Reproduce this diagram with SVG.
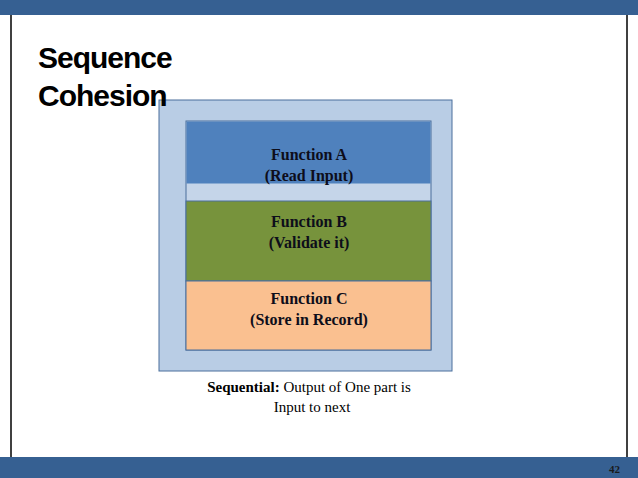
<svg xmlns="http://www.w3.org/2000/svg" width="638" height="478" viewBox="0 0 638 478">
<style>
.t{font-family:"Liberation Serif",serif;font-weight:bold;font-size:16px;fill:#0d0d1a;text-anchor:middle}
.n{font-family:"Liberation Serif",serif;font-size:15px;fill:#000;text-anchor:middle}
.h{font-family:"Liberation Sans",Arial,sans-serif;font-weight:bold;font-size:30px;fill:#000;letter-spacing:-1px}
.box{stroke:#4a6f9c;stroke-width:1}
</style>
<rect width="638" height="478" fill="#fff"/>
<rect x="0" y="0" width="638" height="15" fill="#366092"/>
<rect x="0" y="457" width="638" height="21" fill="#366092"/>
<line x1="11" y1="15" x2="11" y2="457" stroke="#000" stroke-width="1.5"/>
<line x1="627" y1="15" x2="627" y2="457" stroke="#000" stroke-width="1.5"/>
<text x="620" y="473" font-family="Liberation Serif,serif" font-weight="bold" font-size="11" fill="#1a1a1a" text-anchor="end">42</text>
<g id="outer"><rect class="box" x="159" y="100" width="293" height="271" fill="#b9cde5"/></g>
<text class="h" x="38" y="68">Sequence</text>
<text class="h" x="38" y="106">Cohesion</text>
<g id="gap"><rect class="box" x="186" y="121" width="245" height="229" fill="#c5d5e9"/></g>
<g id="funcA"><rect x="186.5" y="121.5" width="244" height="62" fill="#4f81bd"/>
<text class="t" x="309" y="160">Function A</text><text class="t" x="309" y="181">(Read  Input)</text></g>
<g id="funcB"><rect class="box" x="186" y="201" width="245" height="80" fill="#77933c"/>
<text class="t" x="309" y="227">Function B</text><text class="t" x="309" y="248">(Validate it)</text></g>
<g id="funcC"><rect class="box" x="186" y="281" width="245" height="69" fill="#fac090"/>
<text class="t" x="309" y="304">Function C</text><text class="t" x="309" y="325">(Store in Record)</text></g>
<g id="caption"><text class="n" x="309" y="392"><tspan font-weight="bold">Sequential:</tspan> Output of One part is</text>
<text class="n" x="312" y="412">Input to next</text></g>
</svg>
